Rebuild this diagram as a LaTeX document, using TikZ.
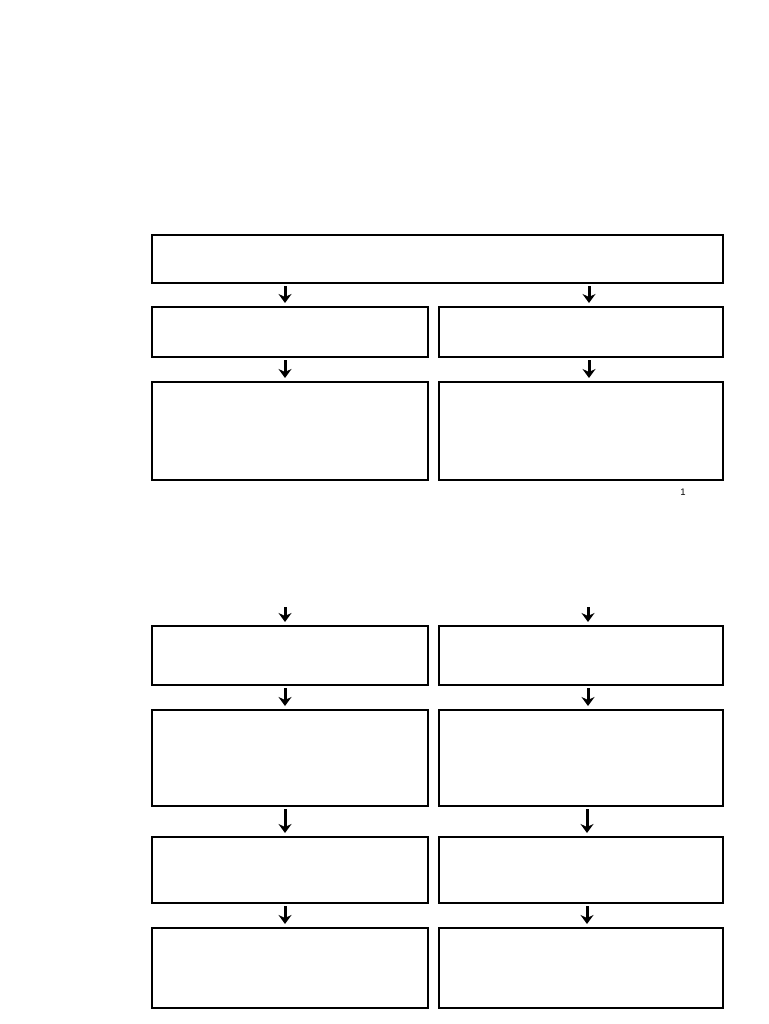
\documentclass[tikz,border=0pt]{standalone}
\usepackage{fontspec}
\setmainfont{Liberation Sans}
\usetikzlibrary{arrows.meta}
\begin{document}
\begin{tikzpicture}[x=1pt,y=-1pt,
  box/.style={draw,line width=2pt,inner sep=0pt,anchor=north west},
  arr/.style={line width=3pt,-{Stealth[length=9pt,width=13pt,inset=3pt]},shorten <=2pt,shorten >=3pt}]
\useasboundingbox[fill=white] (0,0) rectangle (768,1024);
% top section
\node[box,minimum width=571pt,minimum height=48pt] (top) at (151,234) {};
\node[box,minimum width=276pt,minimum height=50pt] (l2) at (151,306) {};
\node[box,minimum width=284pt,minimum height=50pt] (r2) at (438,306) {};
\node[box,minimum width=276pt,minimum height=98pt] (l3) at (151,381) {};
\node[box,minimum width=284pt,minimum height=98pt] (r3) at (438,381) {};
\node[font=\fontsize{9.5}{10}\selectfont,inner sep=0pt] (pg) at (683,492) {1};
\draw[arr] (top.south -| 285,0) -- (l2.north -| 285,0);
\draw[arr] (top.south -| 589,0) -- (r2.north -| 589,0);
\draw[arr] (l2.south -| 285,0) -- (l3.north -| 285,0);
\draw[arr] (r2.south -| 589,0) -- (r3.north -| 589,0);
% bottom section
\coordinate (sl) at (285,607);
\coordinate (sr) at (588,607);
\node[box,minimum width=276pt,minimum height=59pt] (la) at (151,625) {};
\node[box,minimum width=284pt,minimum height=59pt] (ra) at (438,625) {};
\node[box,minimum width=276pt,minimum height=96pt] (lb) at (151,709) {};
\node[box,minimum width=284pt,minimum height=96pt] (rb) at (438,709) {};
\node[box,minimum width=276pt,minimum height=66pt] (lc) at (151,836) {};
\node[box,minimum width=284pt,minimum height=66pt] (rc) at (438,836) {};
\node[box,minimum width=276pt,minimum height=80pt] (ld) at (151,927) {};
\node[box,minimum width=284pt,minimum height=80pt] (rd) at (438,927) {};
\draw[arr,shorten <=0pt] (sl) -- (la.north -| sl);
\draw[arr,shorten <=0pt] (sr) -- (ra.north -| sr);
\draw[arr] (la.south -| 285,0) -- (lb.north -| 285,0);
\draw[arr] (ra.south -| 588,0) -- (rb.north -| 588,0);
\draw[arr] (lb.south -| 285,0) -- (lc.north -| 285,0);
\draw[arr] (rb.south -| 587,0) -- (rc.north -| 587,0);
\draw[arr] (lc.south -| 285,0) -- (ld.north -| 285,0);
\draw[arr] (rc.south -| 587,0) -- (rd.north -| 587,0);
\end{tikzpicture}
\end{document}
